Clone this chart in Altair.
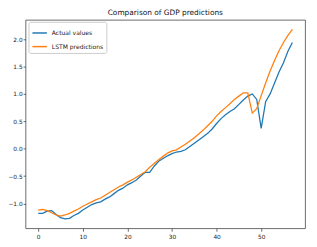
import altair as alt
import pandas as pd

actual = [-1.18, -1.18, -1.14, -1.13, -1.20, -1.26, -1.28, -1.27, -1.22, -1.18,
          -1.12, -1.07, -1.02, -0.99, -0.97, -0.92, -0.88, -0.82, -0.76, -0.72,
          -0.66, -0.62, -0.57, -0.50, -0.43, -0.43, -0.32, -0.23, -0.18, -0.13,
          -0.09, -0.06, -0.05, -0.02, 0.04, 0.10, 0.16, 0.22, 0.28, 0.36,
          0.46, 0.55, 0.62, 0.68, 0.73, 0.81, 0.89, 0.96, 1.00, 0.90,
          0.37, 0.86, 1.00, 1.20, 1.40, 1.57, 1.78, 1.94]
lstm = [-1.12, -1.11, -1.13, -1.17, -1.21, -1.23, -1.21, -1.18, -1.14, -1.10,
        -1.05, -1.01, -0.97, -0.93, -0.90, -0.85, -0.80, -0.75, -0.70, -0.66,
        -0.61, -0.57, -0.52, -0.47, -0.42, -0.34, -0.27, -0.20, -0.14, -0.08,
        -0.04, -0.02, 0.03, 0.08, 0.14, 0.20, 0.27, 0.34, 0.42, 0.50,
        0.60, 0.68, 0.75, 0.82, 0.90, 0.96, 1.02, 1.02, 0.65, 0.73,
        0.97, 1.20, 1.42, 1.61, 1.79, 1.94, 2.07, 2.18]
series_names = ["Actual values", "LSTM predictions"]
series_colors = ["#1f77b4", "#ff7f0e"]
x_ticks = [0, 10, 20, 30, 40, 50]
y_ticks = [-1.0, -0.5, 0.0, 0.5, 1.0, 1.5, 2.0]
title_text = "Comparison of GDP predictions"

rows = []
for i, v in enumerate(actual):
    rows.append({"idx": i, "value": v, "series": series_names[0]})
for i, v in enumerate(lstm):
    rows.append({"idx": i, "value": v, "series": series_names[1]})
df = pd.DataFrame(rows)

FONT = "DejaVu Sans"

chart = alt.Chart(df).mark_line(strokeWidth=1.3).encode(
    x=alt.X("idx:Q",
            scale=alt.Scale(domain=[-2.85, 59.85], nice=False, zero=False),
            axis=alt.Axis(values=x_ticks, title=None, grid=False, format="d",
                          tickSize=3, labelPadding=2, domain=False)),
    y=alt.Y("value:Q",
            scale=alt.Scale(domain=[-1.453, 2.353], nice=False, zero=False),
            axis=alt.Axis(values=y_ticks, title=None, grid=False, format=".1f",
                          tickSize=2.5, labelPadding=1, domain=False)),
    color=alt.Color("series:N",
                    scale=alt.Scale(domain=series_names, range=series_colors),
                    legend=alt.Legend(title=None, orient="none", legendX=3, legendY=2,
                                      symbolType="stroke", symbolSize=220,
                                      symbolStrokeWidth=1.5, labelFontSize=6.2,
                                      labelFont=FONT, labelColor="#222",
                                      fillColor="white", strokeColor="#cccccc",
                                      cornerRadius=2, padding=3, rowPadding=2,
                                      labelOffset=4)),
    order="idx:Q",
).properties(
    width=287,
    height=214,
    title=alt.TitleParams(title_text, fontSize=7.6, font=FONT, fontWeight="normal",
                          color="#111", anchor="middle", offset=3),
    padding={"left": 18, "top": 9, "right": 4, "bottom": 14},
    autosize=alt.AutoSizeParams(type="none"),
).configure_view(
    stroke="#444", strokeWidth=0.8
).configure_axis(
    labelFont=FONT, labelFontSize=6.0, labelColor="#222", tickColor="#444",
    tickWidth=0.8
)

chart.save("out.html", embed_options={"renderer": "svg", "actions": False})
